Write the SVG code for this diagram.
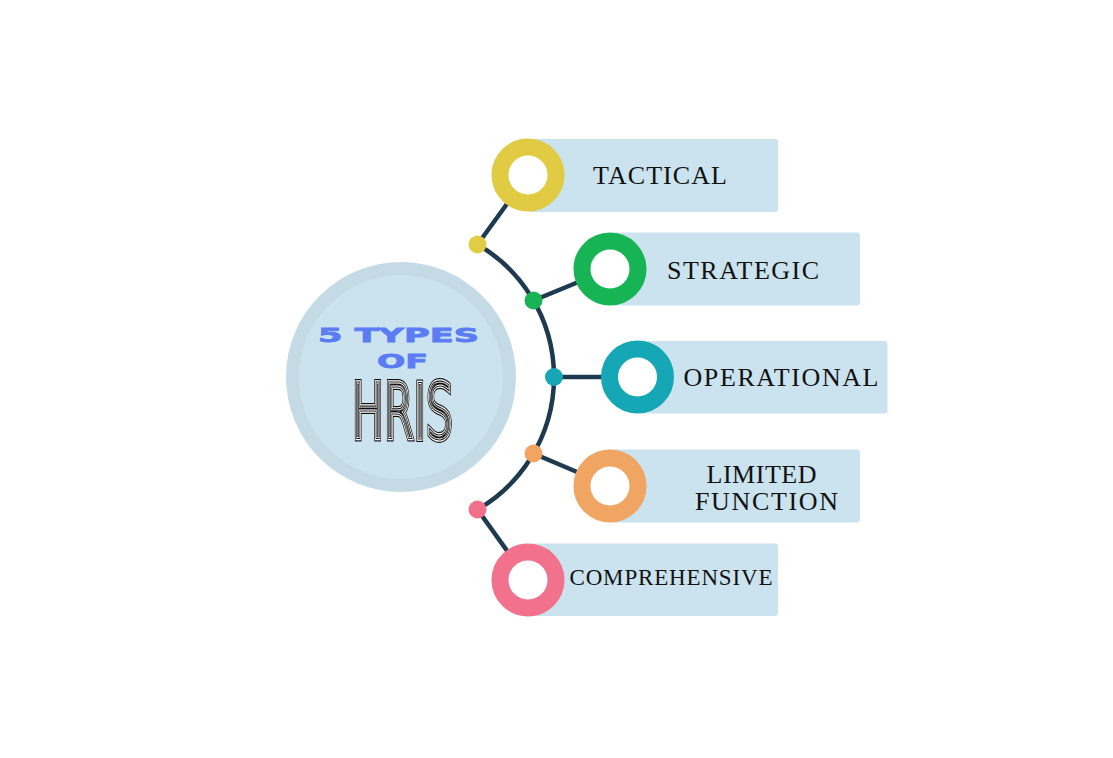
<svg xmlns="http://www.w3.org/2000/svg" width="1113" height="758" viewBox="0 0 1113 758">
<style>
.box{fill:#cae3ee}
.ring{fill:#fff;stroke-width:17}
.lbl{font-family:"Liberation Serif","Times New Roman",serif;font-size:26px;fill:#111}
.conn{stroke:#1d3a4e;stroke-width:4.5;fill:none}
.title{font-family:"DejaVu Sans",sans-serif;font-weight:bold;fill:#5b7cf4;stroke:#5b7cf4;stroke-width:0.8}
.hris{font-family:"DejaVu Sans",sans-serif;font-weight:200;font-stretch:condensed;font-size:75px;fill:none}
</style>
<defs>
<text id="hrisText" x="352" y="438" textLength="101" lengthAdjust="spacingAndGlyphs">HRIS</text>
</defs>
<rect width="1113" height="758" fill="#fff"/>
<g id="center">
<circle cx="401" cy="377" r="115" fill="#c4dbe5"/>
<circle cx="401" cy="377" r="102" fill="#cae3ee"/>
<text class="title" x="318" y="342" font-size="20" textLength="161" lengthAdjust="spacingAndGlyphs">5 TYPES</text>
<text class="title" x="377" y="367.5" font-size="20" textLength="51" lengthAdjust="spacingAndGlyphs">OF</text>
<g class="hris">
<use href="#hrisText" stroke="#111" stroke-width="8"/>
<use href="#hrisText" stroke="#fff" stroke-width="5.6"/>
<use href="#hrisText" stroke="#111" stroke-width="3.2"/>
<use href="#hrisText" stroke="#fff" stroke-width="0.8"/>
</g>
</g>
<g id="connectors">
<path class="conn" d="M477.5 244.5 A153 153 0 0 1 477.5 509.5"/>
<line class="conn" x1="477.5" y1="244.5" x2="528" y2="175"/>
<line class="conn" x1="533.5" y1="300.5" x2="610" y2="269"/>
<line class="conn" x1="554" y1="377" x2="637.5" y2="377"/>
<line class="conn" x1="533.5" y1="453.5" x2="610" y2="486"/>
<line class="conn" x1="477.5" y1="509.5" x2="528" y2="580"/>
<circle cx="477.5" cy="244.5" r="9" fill="#e2cc44"/>
<circle cx="533.5" cy="300.5" r="9" fill="#18b355"/>
<circle cx="554" cy="377" r="9" fill="#16a6b6"/>
<circle cx="533.5" cy="453.5" r="9" fill="#f2a563"/>
<circle cx="477.5" cy="509.5" r="9" fill="#f3708c"/>
</g>
<g id="tactical">
<rect class="box" x="528" y="139" width="250" height="73" rx="3"/>
<circle class="ring" cx="528" cy="175" r="28" stroke="#e1cb42"/>
<text class="lbl" x="593" y="183.5" textLength="134" lengthAdjust="spacing">TACTICAL</text>
</g>
<g id="strategic">
<rect class="box" x="610" y="232.5" width="250" height="73" rx="3"/>
<circle class="ring" cx="610" cy="269" r="28" stroke="#17b455"/>
<text class="lbl" x="667" y="278.5" textLength="152" lengthAdjust="spacing">STRATEGIC</text>
</g>
<g id="operational">
<rect class="box" x="637.5" y="341" width="250" height="72.5" rx="3"/>
<circle class="ring" cx="637.5" cy="377" r="28" stroke="#15a7b5"/>
<text class="lbl" x="683.5" y="386" textLength="195" lengthAdjust="spacing">OPERATIONAL</text>
</g>
<g id="limited">
<rect class="box" x="610" y="449.5" width="250" height="73" rx="3"/>
<circle class="ring" cx="610" cy="486" r="28" stroke="#f1a562"/>
<text class="lbl" x="706.5" y="483" textLength="110" lengthAdjust="spacing">LIMITED</text>
<text class="lbl" x="695" y="510" textLength="143" lengthAdjust="spacing">FUNCTION</text>
</g>
<g id="comprehensive">
<rect class="box" x="528" y="543.5" width="250" height="72.5" rx="3"/>
<circle class="ring" cx="528" cy="580" r="28" stroke="#f2718d"/>
<text class="lbl" x="569.5" y="585" style="font-size:23px" textLength="203" lengthAdjust="spacing">COMPREHENSIVE</text>
</g>
</svg>
